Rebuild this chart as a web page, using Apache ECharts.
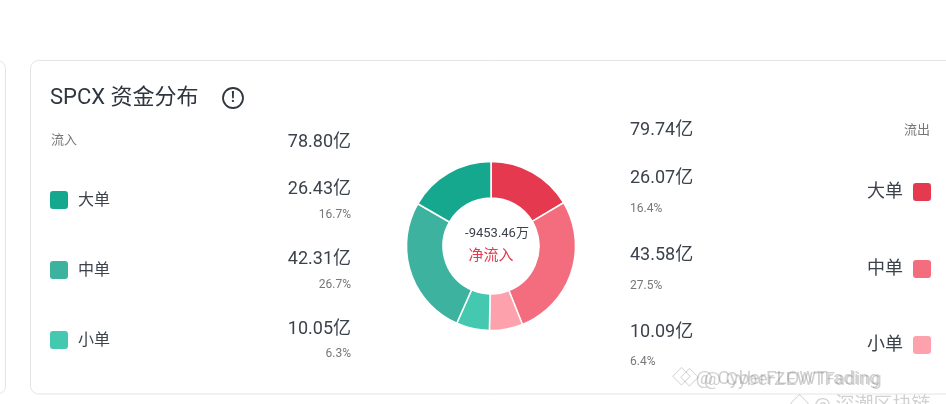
<!DOCTYPE html>
<html><head><meta charset="utf-8">
<style>html,body{margin:0;padding:0;background:#fff}#c{width:946px;height:404px}</style>
<script src="https://cdn.jsdelivr.net/npm/echarts@6/dist/echarts.min.js"></script>
</head><body><div id="c"></div>
<script>
const categories = ['大单','中单','小单'];
const inflowValues = [26.43,42.31,10.05];
const outflowValues = [26.07,43.58,10.09];
const inflowLabels = ['26.43亿','42.31亿','10.05亿'];
const outflowLabels = ['26.07亿','43.58亿','10.09亿'];
const inflowPct = ['16.7%','26.7%','6.3%'];
const outflowPct = ['16.4%','27.5%','6.4%'];
const inflowTotal = '78.80亿';
const outflowTotal = '79.74亿';
const netFlow = '-9453.46万';
const inColors = ['#16a88e','#3db39f','#44c9b0'];
const outColors = ['#e5394f','#f36d7e','#fda2ad'];

const FF = 'Roboto, "Noto Sans CJK SC", sans-serif';
const chart = echarts.init(document.getElementById('c'), null, {renderer:'canvas'});
const txt = (x,y,text,size,fill,align,extra) => ({type:'text',x,y,silent:true,z:5,
  style:Object.assign({text,fontSize:size,fill,align:align||'left',verticalAlign:'middle',fontFamily:FF},extra||{})});
const rect = (x,y,w,h,r,fill,stroke) => ({type:'rect',silent:true,z:1,shape:{x,y,width:w,height:h,r},
  style:{fill:fill||'transparent',stroke:stroke||null,lineWidth:1}});

const inY=[200,270,340], inValY=[189,259,329], inPctY=[215,285,354];
const outY=[192,269,345], outValY=[178,255,332], outPctY=[209,286,362];
const g=[
  rect(-20,60.5,25.5,333.5,8,'#fff','#e4e4e4'),
  rect(30.5,60.5,960,333.5,8,'#fff','#e4e4e4'),
  txt(145,-3,'15:00',12,'#333','center'),
  txt(50,98.5,'SPCX 资金分布',22,'#2f3640'),
  {type:'circle',silent:true,z:5,shape:{cx:233,cy:98,r:10},style:{fill:'transparent',stroke:'#2f3640',lineWidth:1.8}},
  txt(233,98,'!',14,'#2f3640','center',{fontWeight:'bold'}),
  txt(51,141,'流入',13,'#777'),
  txt(351,142,inflowTotal,18,'#3b424b','right'),
  txt(630,130,outflowTotal,18,'#3b424b'),
  txt(930,131,'流出',13,'#777','right'),
  txt(497,234,netFlow,13,'#3b424b','center'),
  txt(491,256,'净流入',15,'#e5394f','center'),
  {type:'text',x:672,y:379,silent:true,z:6,style:{text:'◇ @ CyberFLOWTrading',fontSize:19,fill:'rgba(120,120,120,.35)',fontFamily:FF,verticalAlign:'middle'}},
  {type:'text',x:680,y:380,silent:true,z:6,style:{text:'◇ @ CyberZEWTFading',fontSize:19,fill:'rgba(120,120,120,.35)',fontFamily:FF,verticalAlign:'middle'}},
  {type:'text',x:790,y:406,silent:true,z:6,style:{text:'◇ @ 深潮区块链',fontSize:19,fill:'rgba(120,120,120,.35)',fontFamily:FF,verticalAlign:'middle'}}
];
categories.forEach((c,i)=>{
  g.push(rect(50,inY[i]-9,18,18,3,inColors[i]));
  g.push(txt(78,inY[i]+0.5,c,16,'#3b424b'));
  g.push(txt(351,inValY[i],inflowLabels[i],18,'#3b424b','right'));
  g.push(txt(351,inPctY[i],inflowPct[i],12,'#777','right'));
  g.push(rect(913,outY[i]-9,18,18,3,outColors[i]));
  g.push(txt(903,outY[i],c,18,'#3b424b','right'));
  g.push(txt(630,outValY[i],outflowLabels[i],18,'#3b424b'));
  g.push(txt(630,outPctY[i],outflowPct[i],12,'#777'));
});
const pieData=[];
categories.forEach((c,i)=>pieData.push({name:'流出'+c,value:outflowValues[i],itemStyle:{color:outColors[i]}}));
[2,1,0].forEach(i=>pieData.push({name:'流入'+categories[i],value:inflowValues[i],itemStyle:{color:inColors[i]}}));
chart.setOption({
  animation:false,
  graphic:{elements:g},
  series:[{type:'pie',z:3,center:[491,246],radius:[48,84.5],startAngle:90,clockwise:true,
    label:{show:false},labelLine:{show:false},silent:true,
    itemStyle:{borderColor:'#fff',borderWidth:1.5},data:pieData}]
});
</script></body></html>
